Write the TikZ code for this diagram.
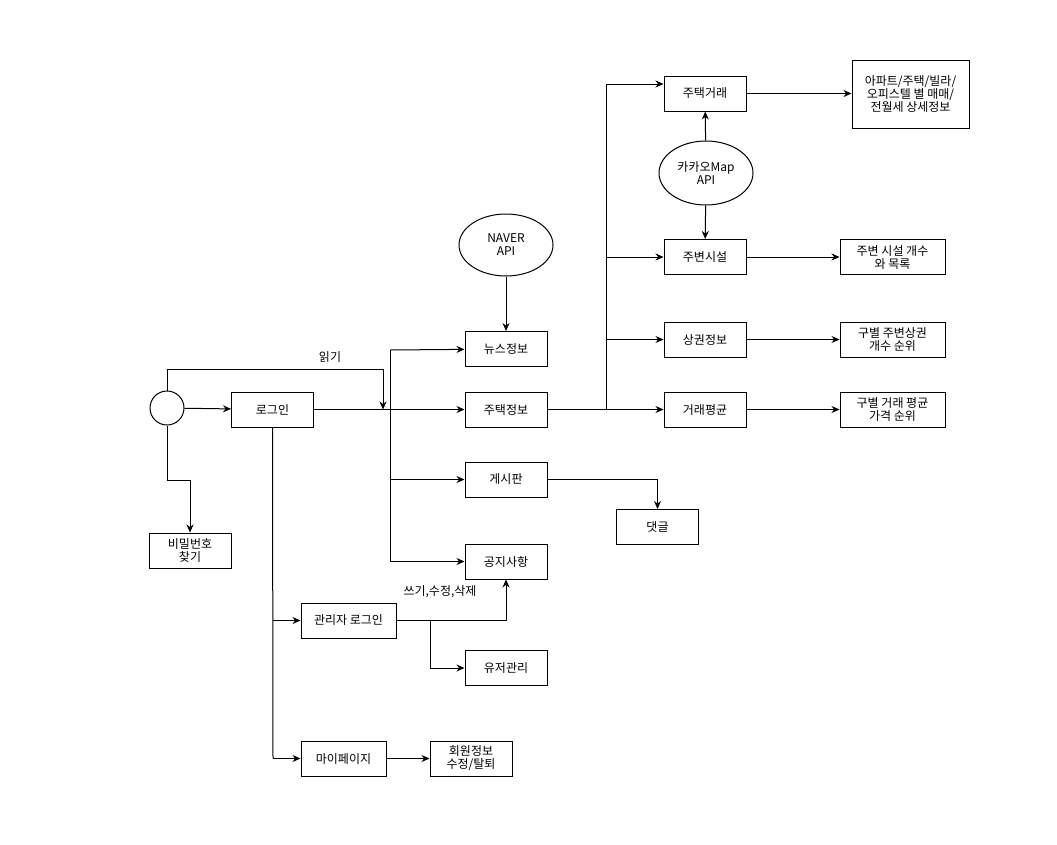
\documentclass[tikz,border=0pt]{standalone}
\usepackage{fontspec}
\setmainfont{Noto Sans CJK KR}
\usetikzlibrary{arrows.meta,shapes.geometric}
\begin{document}
\begin{tikzpicture}[x=1pt,y=-1pt,
  box/.style={draw,line width=1pt,minimum width=82pt,minimum height=35pt,inner sep=1pt,align=center,font=\fontsize{12}{13}\selectfont},
  ell/.style={draw,line width=1pt,ellipse,minimum width=94pt,minimum height=62pt,inner sep=0pt,align=center,font=\fontsize{12}{13}\selectfont},
  lbl/.style={font=\fontsize{12}{13}\selectfont},
  arr/.style={draw,line width=1pt,-{Stealth[length=8pt,width=7pt]}},
  ln/.style={draw,line width=1pt}]
\useasboundingbox (0,0) rectangle (1057,844);
\node[draw,line width=1pt,circle,minimum size=34pt,inner sep=0pt] (st) at (167,408) {};
\node[box] (login) at (272.5,409.5) {로그인};
\node[box] (pw) at (190,550.5) {비밀번호\\찾기};
\node[box] (news) at (506,349) {뉴스정보};
\node[box] (house) at (506,409.5) {주택정보};
\node[box] (board) at (506,479.5) {게시판};
\node[box] (notice) at (506,561.5) {공지사항};
\node[box,minimum width=95pt] (admin) at (348.5,620.5) {관리자 로그인};
\node[box] (user) at (506,668) {유저관리};
\node[box] (cmt) at (657.5,527) {댓글};
\node[box,minimum width=85pt] (my) at (343.5,758.5) {마이페이지};
\node[box] (info) at (471,758.5) {회원정보\\수정/탈퇴};
\node[ell] (naver) at (506,245) {NAVER\\API};
\node[box] (deal) at (705,93.5) {주택거래};
\node[box,minimum width=117pt,minimum height=68pt] (apt) at (910.5,94) {아파트/주택/빌라/\\오피스텔 별 매매/\\전월세 상세정보};
\node[ell,minimum height=64pt] (kakao) at (706,173) {카카오Map\\API};
\node[box] (fac) at (705,257) {주변시설};
\node[box,minimum width=105pt] (facd) at (892.5,257) {주변 시설 개수\\와 목록};
\node[box] (com) at (705,339.5) {상권정보};
\node[box,minimum width=105pt] (comd) at (892.5,339.5) {구별 주변상권\\개수 순위};
\node[box] (avg) at (705,409.5) {거래평균};
\node[box,minimum width=105pt] (avgd) at (892.5,409.5) {구별 거래 평균\\가격 순위};
\coordinate (j1) at (383,409.5);
\coordinate (t1) at (606,409.5);

\path[arr] (st) -- (login);
\path[arr] (st.south) |- (190,480) -- (pw.north);
\path[arr] (st.north) |- (383,369) -- (j1);
\node[lbl] (read) at (330,357) {읽기};
\path[arr] (login) -- (house);
\path[ln] (390,350) -- (390,561.5);
\path[arr] (390,350) -- (news);
\path[arr] (390,479.5) -- (board);
\path[arr] (390,561.5) -- (notice);
\path[arr] (naver) -- (news);
\path[ln] (login.south) -- (273,758.5);
\path[arr] (273,620.5) -- (admin);
\path[arr] (273,758.5) -- (my);
\path[arr] (admin.east) -| (notice.south);
\node[lbl] (wr) at (440,592) {쓰기,수정,삭제};
\path[arr] (430,620.5) |- (user.west);
\path[arr] (board.east) -| (cmt.north);
\path[arr] (my) -- (info);
\path[ln] (house.east) -- (t1);
\path[ln] (606,84) -- (606,409.5);
\path[arr] (606,84) -- (deal.west |- 0,84);
\path[arr] (606,257) -- (fac);
\path[arr] (606,339.5) -- (com);
\path[arr] (606,409.5) -- (avg);
\path[arr] (deal) -- (apt.west |- deal);
\path[arr] (fac) -- (facd);
\path[arr] (com) -- (comd);
\path[arr] (avg) -- (avgd);
\path[arr] (kakao) -- (deal);
\path[arr] (kakao) -- (fac);
\end{tikzpicture}
\end{document}
